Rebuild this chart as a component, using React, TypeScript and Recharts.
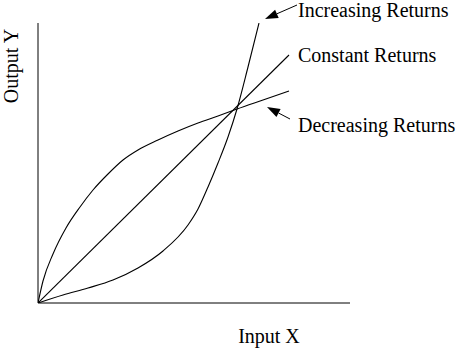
import { LineChart, Line, XAxis, YAxis, ReferenceLine } from "recharts";

// input (x) and output (y)
const increasingX = [0, 25, 50, 75, 100, 125, 150, 160, 170, 180, 190, 199, 210, 221];
const increasingY = [0, 8, 15, 23, 35, 52, 78, 94, 116, 140, 166, 194, 236, 280];

const constantX = [0, 251];
const constantY = [0, 248];

const decreasingX = [0, 5, 15, 28, 42, 55, 70, 85, 100, 120, 140, 160, 180, 199, 225, 251];
const decreasingY = [0, 22, 49, 75, 96, 113, 129, 143, 153, 163, 172, 180, 187, 194, 203, 212];

const labels = ["Increasing Returns", "Constant Returns", "Decreasing Returns"];

const toPoints = (xs: number[], ys: number[]) => xs.map((x, i) => ({ x, y: ys[i] }));

const increasing = toPoints(increasingX, increasingY);
const constant = toPoints(constantX, constantY);
const decreasing = toPoints(decreasingX, decreasingY);

const font = "'Liberation Serif', 'Times New Roman', serif";

function Arrow(props: any) {
  const { x1, y1, x2, y2 } = props;
  const ang = Math.atan2(y2 - y1, x2 - x1);
  const len = 13;
  const half = 4.5;
  const bx = x2 - len * Math.cos(ang);
  const by = y2 - len * Math.sin(ang);
  const px = -Math.sin(ang) * half;
  const py = Math.cos(ang) * half;
  return (
    <g>
      <line x1={x1} y1={y1} x2={bx} y2={by} stroke="#000" strokeWidth={1} />
      <polygon points={`${x2},${y2} ${bx + px},${by + py} ${bx - px},${by - py}`} fill="#000" />
    </g>
  );
}

export default function App() {
  return (
    <div style={{ position: "absolute", left: 0, top: 0, background: "#fff" }}>
      <LineChart
        width={460}
        height={351}
        margin={{ top: 23, right: 110, bottom: 47, left: 37 }}
      >
        <XAxis
          dataKey="x"
          type="number"
          domain={[0, 312]}
          allowDataOverflow
          tick={false}
          tickLine={false}
          height={1}
          axisLine={{ stroke: "#000", strokeWidth: 1 }}
        />
        <YAxis
          dataKey="y"
          type="number"
          domain={[0, 280]}
          allowDataOverflow
          tick={false}
          tickLine={false}
          width={1}
          axisLine={{ stroke: "#000", strokeWidth: 1 }}
        />
        <Line data={decreasing} dataKey="y" type="monotone" stroke="#000" strokeWidth={1.1} dot={false} isAnimationActive={false} />
        <Line data={constant} dataKey="y" type="linear" stroke="#000" strokeWidth={1.1} dot={false} isAnimationActive={false} />
        <Line data={increasing} dataKey="y" type="monotone" stroke="#000" strokeWidth={1.1} dot={false} isAnimationActive={false} />
        <ReferenceLine
          segment={[{ x: 259, y: 298 }, { x: 227, y: 284 }]}
          ifOverflow="visible"
          shape={Arrow}
        />
        <ReferenceLine
          segment={[{ x: 252, y: 184 }, { x: 229, y: 196 }]}
          ifOverflow="visible"
          shape={Arrow}
        />
        <text x={298} y={17} fontFamily={font} fontSize={20} fill="#000">{labels[0]}</text>
        <text x={298} y={62} fontFamily={font} fontSize={20} fill="#000">{labels[1]}</text>
        <text x={298} y={132} fontFamily={font} fontSize={20} fill="#000">{labels[2]}</text>
        <text x={269} y={343} textAnchor="middle" fontFamily={font} fontSize={20} fill="#000">Input X</text>
        <text x={18} y={66} textAnchor="middle" transform="rotate(-90 18 66)" fontFamily={font} fontSize={20} fill="#000">Output Y</text>
      </LineChart>
    </div>
  );
}
